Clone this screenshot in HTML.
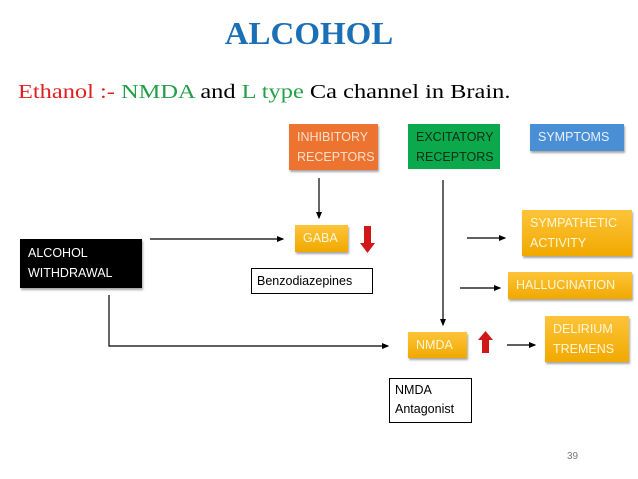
<!DOCTYPE html>
<html><head><style>
body{margin:0;width:638px;height:479px;background:#fff;position:relative;overflow:hidden;font-family:"Liberation Sans","DejaVu Sans",sans-serif}
.a{position:absolute}
.b{position:absolute;box-sizing:border-box;color:#fff;font-size:12.5px;line-height:20px;padding:3px 0 0 8px;box-shadow:1px 2px 2px rgba(0,0,0,.35)}
.y{background:linear-gradient(#fdc43a,#f1a900);color:#fff7d8}
.w{position:absolute;border:1px solid #000;box-sizing:border-box;font-size:12.5px;padding:3px 5px;line-height:19px;color:#000;background:#fff}
</style></head><body>
<div class="a" style="left:-10px;width:638px;top:15px;text-align:center;font:bold 32px 'Liberation Serif',serif;color:#1a6fb5;transform:scaleX(1.03)">ALCOHOL</div>
<div class="a" style="left:18px;top:81px;font:20px 'Liberation Serif',serif;color:#000;white-space:nowrap;transform:scaleX(1.22);transform-origin:0 0"><span style="color:#e02020">Ethanol</span> <span style="color:#e02020">:-</span> <span style="color:#21a047">NMDA</span> and <span style="color:#21a047">L type</span> Ca channel in Brain.</div>
<div class="b" style="left:289px;top:124px;width:89px;height:46px;background:#ec7330;color:#fde0cc">INHIBITORY<br>RECEPTORS</div>
<div class="b" style="left:408px;top:124px;width:92px;height:45px;background:#0ca94c;color:#0d2d17;box-shadow:none">EXCITATORY<br>RECEPTORS</div>
<div class="b" style="left:530px;top:124px;width:94px;height:27px;background:#4a8fd6;color:#e8f1fb">SYMPTOMS</div>
<div class="b" style="left:20px;top:239px;width:122px;height:49px;background:#000;color:#fff;padding-top:4px">ALCOHOL<br>WITHDRAWAL</div>
<div class="b y" style="left:295px;top:225px;width:53px;height:27px">GABA</div>
<div class="b y" style="left:522px;top:210px;width:110px;height:46px">SYMPATHETIC<br>ACTIVITY</div>
<div class="b y" style="left:508px;top:272px;width:124px;height:27px">HALLUCINATION</div>
<div class="b y" style="left:545px;top:316px;width:84px;height:46px">DELIRIUM<br>TREMENS</div>
<div class="b y" style="left:408px;top:332px;width:59px;height:26px">NMDA</div>
<div class="w" style="left:251px;top:268px;width:122px;height:26px">Benzodiazepines</div>
<div class="w" style="left:389px;top:378px;width:83px;height:45px;padding-top:2px">NMDA<br>Antagonist</div>
<div class="a" style="left:567px;top:451px;font-size:10px;color:#777">39</div>
<svg class="a" style="left:0;top:0" width="638" height="479">
<defs><marker id="m" markerWidth="6" markerHeight="6" refX="5" refY="3" orient="auto"><path d="M0,0.5L6,3L0,5.5z" fill="#000"/></marker></defs>
<g stroke="#000" stroke-width="1.2" fill="none">
<path d="M150,239H283" marker-end="url(#m)"/>
<path d="M319,178V218" marker-end="url(#m)"/>
<path d="M443,180V325" marker-end="url(#m)"/>
<path d="M109,295V346H388" marker-end="url(#m)"/>
<path d="M467,238H505" marker-end="url(#m)"/>
<path d="M460,288H500" marker-end="url(#m)"/>
<path d="M507,345H535" marker-end="url(#m)"/>
</g>
<path d="M364,226h7v17h4l-7.5,10l-7.5,-10h4z" fill="#d01818"/>
<path d="M482,353h7v-13h4l-7.5,-9l-7.5,9h4z" fill="#d01818"/>
</svg>
</body></html>
